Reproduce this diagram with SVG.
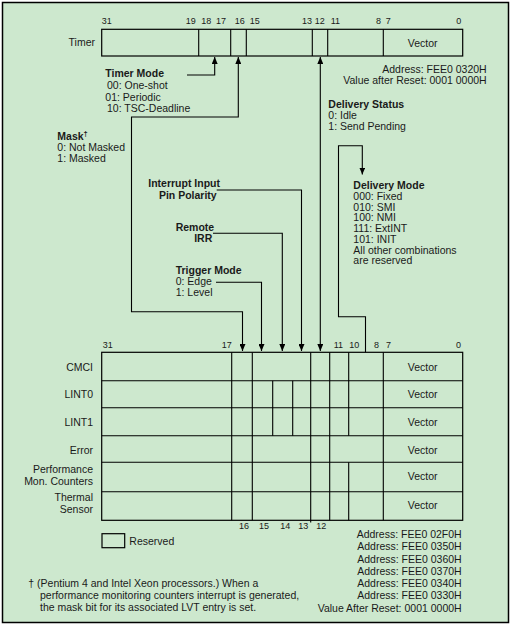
<svg xmlns="http://www.w3.org/2000/svg" width="511" height="625" viewBox="0 0 511 625">
<defs>
<style>
text{font-family:"Liberation Sans",Arial,sans-serif;font-size:10.5px;fill:#1a1a1a}
.b{font-weight:bold}
.n{font-size:9px}
.e{text-anchor:end}
.m{text-anchor:middle}
.box{fill:none;stroke:#000;stroke-width:1.2}
.ln{stroke:#000;stroke-width:1.1;fill:none}
.c{stroke:#000;stroke-width:1.1;fill:none;marker-end:url(#ah)}
.c2{stroke:#000;stroke-width:1.1;fill:none;marker-end:url(#ah);marker-start:url(#ahs)}
</style>
<marker id="ah" viewBox="0 0 7 6" refX="7" refY="3" markerWidth="7" markerHeight="6" markerUnits="userSpaceOnUse" orient="auto"><path d="M0,0 L7,3 L0,6 Z" fill="#000"/></marker>
<marker id="ahs" viewBox="0 0 7 6" refX="7" refY="3" markerWidth="7" markerHeight="6" markerUnits="userSpaceOnUse" orient="auto-start-reverse"><path d="M0,0 L7,3 L0,6 Z" fill="#000"/></marker>
</defs>
<rect x="2.5" y="2.5" width="506" height="620" fill="#cde8ce" stroke="#000" stroke-width="1.5"/>

<g id="timer">
<text x="95" y="45.5" class="e">Timer</text>
<rect x="101.7" y="29.3" width="361" height="26.7" class="box"/>
<path class="ln" d="M198.7,29.3V56M230.7,29.3V56M246.3,29.3V56M312.3,29.3V56M327.7,29.3V56M383.3,29.3V56"/>
<text x="422.7" y="47" class="m">Vector</text>
<g class="n">
<text x="101.7" y="24" class="n">31</text>
<text x="185.7" y="24" class="n">19</text>
<text x="201.3" y="24" class="n">18</text>
<text x="216" y="24" class="n">17</text>
<text x="234.7" y="24" class="n">16</text>
<text x="249.7" y="24" class="n">15</text>
<text x="302" y="24" class="n">13</text>
<text x="314.7" y="24" class="n">12</text>
<text x="330.7" y="24" class="n">11</text>
<text x="376" y="24" class="n">8</text>
<text x="385.7" y="24" class="n">7</text>
<text x="456.3" y="24" class="n">0</text>
</g>
<text x="486.7" y="72.7" class="e">Address: FEE0 0320H</text>
<text x="486.7" y="84" class="e">Value after Reset: 0001 0000H</text>
</g>

<g id="timer-mode">
<text x="105.3" y="77" class="b">Timer Mode</text>
<text x="107" y="88.7">00: One-shot</text>
<text x="105.3" y="100.5">01: Periodic</text>
<text x="107" y="111.7">10: TSC-Deadline</text>
</g>

<g id="delivery-status">
<text x="328.3" y="107.7" class="b">Delivery Status</text>
<text x="328.3" y="119">0: Idle</text>
<text x="328.3" y="130.3">1: Send Pending</text>
</g>

<g id="mask">
<text x="57.3" y="139.7" class="b">Mask<tspan dy="-4" font-size="7.5">†</tspan></text>
<text x="57.3" y="151">0: Not Masked</text>
<text x="57.3" y="162.3">1: Masked</text>
</g>

<g id="pin-polarity">
<text x="220" y="187" class="b e">Interrupt Input</text>
<text x="216.7" y="199.4" class="b e">Pin Polarity</text>
</g>

<g id="remote-irr">
<text x="175.7" y="231" class="b">Remote</text>
<text x="212.3" y="242.4" class="b e">IRR</text>
</g>

<g id="trigger-mode">
<text x="175.7" y="274.4" class="b">Trigger Mode</text>
<text x="175.7" y="285.4">0: Edge</text>
<text x="175.7" y="296">1: Level</text>
</g>

<g id="delivery-mode">
<text x="353.3" y="189.3" class="b">Delivery Mode</text>
<text x="353.3" y="200">000: Fixed</text>
<text x="353.3" y="210.7">010: SMI</text>
<text x="353.3" y="221.4">100: NMI</text>
<text x="353.3" y="232.1">111: ExtINT</text>
<text x="353.3" y="242.8">101: INIT</text>
<text x="353.3" y="253.5">All other combinations</text>
<text x="353.3" y="264">are reserved</text>
</g>

<g id="connectors">
<path class="c" d="M187,75H214.7V57"/>
<path class="c2" d="M238.3,57V117H131.5V311.7H242.5V351"/>
<path class="c2" d="M320.3,57V351"/>
<path class="c" d="M216.7,190H301.5V351"/>
<path class="c" d="M213,233.3H282.3V351"/>
<path class="c" d="M216,282.3H261.5V351"/>
<path class="c" d="M365.5,352.3V316.7H338.5V145.7H362.3V174.5"/>
</g>

<g id="lvt-table">
<rect x="101.7" y="352.3" width="361" height="168" class="box"/>
<path class="ln" d="M101.7,380.7H462.7M101.7,407.7H462.7M101.7,435.7H462.7M101.7,462.3H462.7M101.7,491.7H462.7"/>
<path class="ln" d="M231.7,352.3V520.3M252.3,352.3V520.3M310.7,352.3V522.5M329.7,352.3V520.3M383.3,352.3V520.3"/>
<path class="ln" d="M348.7,352.3V435.7M348.7,462.3V520.3M272.7,380.7V435.7M292.7,380.7V435.7"/>
<text x="102.7" y="347.7" class="n">31</text>
<text x="221.7" y="347.7" class="n">17</text>
<text x="333.7" y="347.7" class="n">11</text>
<text x="349.3" y="347.7" class="n">10</text>
<text x="374" y="347.7" class="n">8</text>
<text x="386" y="347.7" class="n">7</text>
<text x="456" y="347.7" class="n">0</text>
<text x="239" y="529.3" class="n">16</text>
<text x="259" y="529.3" class="n">15</text>
<text x="280.3" y="529.3" class="n">14</text>
<text x="298.3" y="529.3" class="n">13</text>
<text x="316.3" y="529.3" class="n">12</text>
</g>

<g id="row-cmci"><text x="93" y="371" class="e">CMCI</text><text x="422.7" y="371" class="m">Vector</text></g>
<g id="row-lint0"><text x="93" y="397.7" class="e">LINT0</text><text x="422.7" y="397.7" class="m">Vector</text></g>
<g id="row-lint1"><text x="93" y="425.7" class="e">LINT1</text><text x="422.7" y="425.7" class="m">Vector</text></g>
<g id="row-error"><text x="93" y="453.7" class="e">Error</text><text x="422.7" y="453.7" class="m">Vector</text></g>
<g id="row-perf"><text x="93" y="473.3" class="e">Performance</text><text x="93" y="485" class="e">Mon. Counters</text><text x="422.7" y="480" class="m">Vector</text></g>
<g id="row-thermal"><text x="93" y="501" class="e">Thermal</text><text x="93" y="513" class="e">Sensor</text><text x="422.7" y="508.5" class="m">Vector</text></g>

<g id="legend">
<rect x="102" y="533.7" width="22.7" height="14" class="box"/>
<text x="129.3" y="545.3">Reserved</text>
</g>

<g id="addresses">
<text x="461.7" y="538" class="e">Address: FEE0 02F0H</text>
<text x="461.7" y="550.4" class="e">Address: FEE0 0350H</text>
<text x="461.7" y="562.7" class="e">Address: FEE0 0360H</text>
<text x="461.7" y="575.4" class="e">Address: FEE0 0370H</text>
<text x="461.7" y="587" class="e">Address: FEE0 0340H</text>
<text x="461.7" y="599.4" class="e">Address: FEE0 0330H</text>
<text x="461.7" y="611.7" class="e">Value After Reset: 0001 0000H</text>
</g>

<g id="footnote">
<text x="28.3" y="586.7">† (Pentium 4 and Intel Xeon processors.) When a</text>
<text x="40" y="599">performance monitoring counters interrupt is generated,</text>
<text x="40" y="611.4">the mask bit for its associated LVT entry is set.</text>
</g>
</svg>
